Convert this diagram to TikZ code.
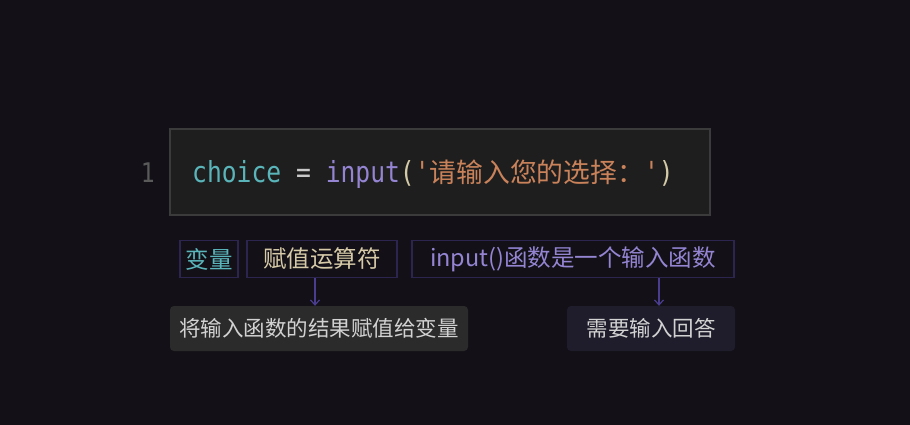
\documentclass[tikz,border=0pt]{standalone}
\usepackage{fontspec}
\setmainfont{Noto Sans CJK SC}
\newfontfamily\codefont{DejaVu Sans Mono}[FakeStretch=0.85,Ligatures=TeXOff]
\newfontfamily\cjkcode{Noto Sans CJK SC}[Ligatures=TeXOff]
\usetikzlibrary{arrows.meta}
\definecolor{bg}{HTML}{131117}
\definecolor{codebg}{HTML}{1E1E1E}
\definecolor{codeborder}{HTML}{3B3B3B}
\definecolor{lineno}{HTML}{5A5A5A}
\definecolor{cteal}{HTML}{5AB5BA}
\definecolor{cop}{HTML}{C8C8C8}
\definecolor{cfun}{HTML}{9484D2}
\definecolor{cparen}{HTML}{D4CAA8}
\definecolor{cstr}{HTML}{C9825A}
\definecolor{lblborder}{HTML}{2B2550}
\definecolor{beige}{HTML}{D6CAA8}
\definecolor{arrowc}{HTML}{4A3D90}
\definecolor{graybox}{HTML}{2B2B2B}
\definecolor{purplebox}{HTML}{1F1C2B}
\definecolor{notetext}{HTML}{D2D2D2}
\tikzset{
  lbl/.style={draw=lblborder, line width=1.5pt, minimum height=37pt, inner sep=0pt,
    font=\fontsize{23.5}{27}\selectfont},
  note/.style={rounded corners=4pt, minimum height=45pt, inner sep=0pt,
    text=notetext, font=\fontsize{21.5}{26}\selectfont},
  conn/.style={draw=arrowc, line width=1.2pt, -{Straight Barb[length=5pt,width=9pt]}}
}
\begin{document}
\begin{tikzpicture}[x=1pt,y=-1pt]
\fill[bg] (0,0) rectangle (910,425);
\useasboundingbox (0,0) rectangle (910,425);

\node[draw=codeborder, fill=codebg, line width=1.5pt, minimum width=540pt, minimum height=86pt, inner sep=0pt] (code) at (440,172) {};
\node[anchor=base east, inner sep=0pt, text=lineno, font=\codefont\fontsize{27}{32}\selectfont] (num) at (155,182) {1};
\node[anchor=base west, inner sep=0pt, font=\codefont\fontsize{29}{32}\selectfont] (src) at (192,182)
 {\textcolor{cteal}{choice}\textcolor{cop}{\ =\ }\textcolor{cfun}{input}\textcolor{cparen}{(}\textcolor{cstr}{'{\cjkcode\fontsize{26.8}{32}\selectfont 请输入您的选择：}'}\textcolor{cparen}{)}};

\node[lbl, text=cteal, minimum width=58pt] (var) at (209,259) {变量};
\node[lbl, text=beige, minimum width=150pt] (assign) at (322,259) {赋值运算符};
\node[lbl, text=cfun, minimum width=322pt] (func) at (573,259) {input()函数是一个输入函数};

\node[note, fill=graybox, minimum width=298pt] (result) at (319,328.5) {将输入函数的结果赋值给变量};
\node[note, fill=purplebox, minimum width=168pt] (answer) at (651,328.5) {需要输入回答};

\draw[conn] ([xshift=-7pt]assign.south) -- ([xshift=-7pt]assign.south |- result.north);
\draw[conn] ([xshift=86pt]func.south) -- ([xshift=86pt]func.south |- answer.north);
\end{tikzpicture}
\end{document}
